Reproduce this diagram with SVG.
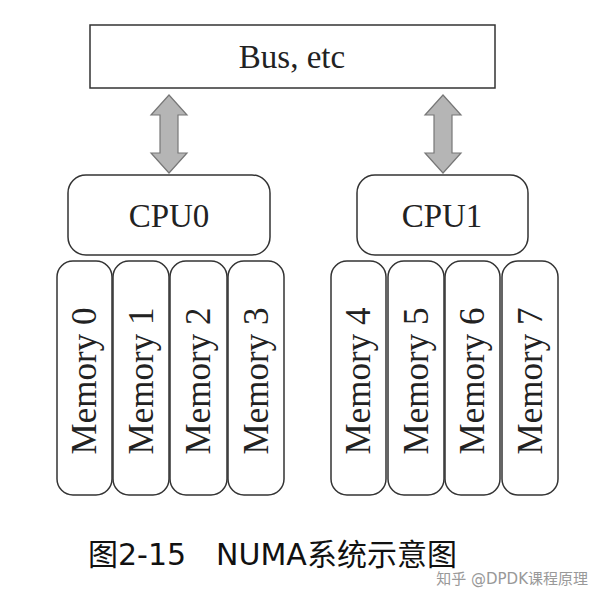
<svg xmlns="http://www.w3.org/2000/svg" width="600" height="605" viewBox="0 0 600 605">
<style>
.box{fill:#fff;stroke:#333;stroke-width:1.5}
.arr{fill:#b5b5b5;stroke:#777;stroke-width:1.2}
.t{font-family:"Liberation Serif",serif;fill:#222;text-anchor:middle}
.m{font-size:35px}
</style>
<rect width="600" height="605" fill="#fff"/>
<g id="bus"><rect class="box" x="90" y="25" width="405" height="63"/><text class="t" x="292" y="68" font-size="33">Bus, etc</text></g>
<g id="connectors">
<path class="arr" d="M169,95 L187,115 L178,115 L178,153 L187,153 L169,173 L151,153 L160,153 L160,115 L151,115 Z"/>
<path class="arr" d="M443,95 L461,115 L452,115 L452,153 L461,153 L443,173 L425,153 L434,153 L434,115 L425,115 Z"/>
</g>
<g id="cpu0"><rect class="box" x="68" y="175" width="202" height="80" rx="18"/><text class="t" x="169" y="227" font-size="33">CPU0</text></g>
<g id="cpu1"><rect class="box" x="357" y="175" width="171" height="80" rx="18"/><text class="t" x="442" y="227" font-size="33">CPU1</text></g>
<g id="mem0"><rect class="box" x="57" y="261" width="55" height="234" rx="16"/><text class="t m" transform="translate(96,381) rotate(-90)">Memory 0</text></g>
<g id="mem1"><rect class="box" x="113" y="261" width="56" height="234" rx="16"/><text class="t m" transform="translate(153,381) rotate(-90)">Memory 1</text></g>
<g id="mem2"><rect class="box" x="170" y="261" width="57" height="234" rx="16"/><text class="t m" transform="translate(210,381) rotate(-90)">Memory 2</text></g>
<g id="mem3"><rect class="box" x="228" y="261" width="56" height="234" rx="16"/><text class="t m" transform="translate(268,381) rotate(-90)">Memory 3</text></g>
<g id="mem4"><rect class="box" x="331" y="261" width="55" height="234" rx="16"/><text class="t m" transform="translate(370,381) rotate(-90)">Memory 4</text></g>
<g id="mem5"><rect class="box" x="388" y="261" width="56" height="234" rx="16"/><text class="t m" transform="translate(428,381) rotate(-90)">Memory 5</text></g>
<g id="mem6"><rect class="box" x="445" y="261" width="55" height="234" rx="16"/><text class="t m" transform="translate(484,381) rotate(-90)">Memory 6</text></g>
<g id="mem7"><rect class="box" x="502" y="261" width="56" height="234" rx="16"/><text class="t m" transform="translate(542,381) rotate(-90)">Memory 7</text></g>
<text x="88" y="565" font-size="30" font-family="'DejaVu Sans','Noto Sans CJK SC',sans-serif" fill="#111">图2-15　NUMA系统示意图</text>
<text x="588" y="584" font-size="15" text-anchor="end" font-family="'DejaVu Sans','Noto Sans CJK SC',sans-serif" fill="#999">知乎 @DPDK课程原理</text>
</svg>
